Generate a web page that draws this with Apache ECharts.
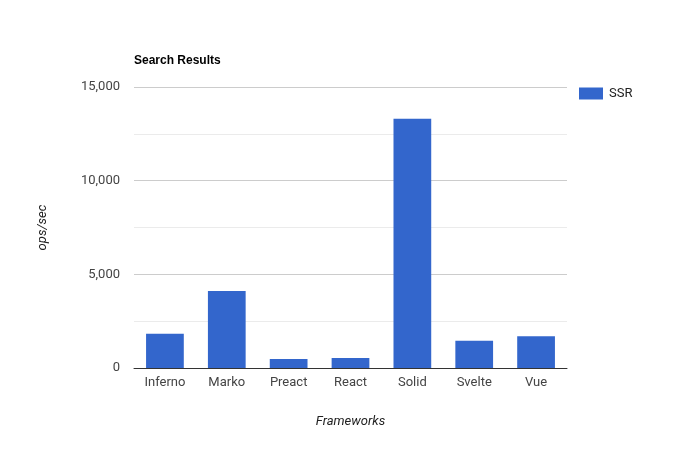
<!DOCTYPE html>
<html lang="en">
<head>
    <meta charset="UTF-8">
    <title>Search Results</title>
    <script src="https://cdn.jsdelivr.net/npm/echarts@6/dist/echarts.min.js"></script>
    <style>
        html, body { margin: 0; padding: 0; background: #fff; }
        #chart { width: 700px; height: 455px; }
    </style>
</head>
<body>
<div id="chart"></div>
<script type="text/javascript">
    var frameworks = ['Inferno', 'Marko', 'Preact', 'React', 'Solid', 'Svelte', 'Vue'];
    var ssrValues = [1830, 4110, 480, 530, 13300, 1455, 1690];
    var seriesName = 'SSR';

    var font = 'Roboto, Arial, "Liberation Sans", sans-serif';
    var chart = echarts.init(document.getElementById('chart'));

    var option = {
        backgroundColor: '#ffffff',
        animation: false,
        textStyle: { fontFamily: font },
        title: {
            text: 'Search Results',
            left: 134,
            top: 55,
            padding: 0,
            textStyle: { fontSize: 12, fontWeight: 'bold', color: '#000', fontFamily: 'Arial, "Liberation Sans", sans-serif' }
        },
        legend: {
            data: [seriesName],
            left: 579,
            top: 87,
            padding: 0,
            itemWidth: 24,
            itemHeight: 12,
            itemGap: 6,
            icon: 'rect',
            textStyle: { fontSize: 13, color: '#222', fontFamily: font, padding: [0, 0, 0, 1] }
        },
        grid: { left: 134, right: 133, top: 87, bottom: 87 },
        xAxis: {
            type: 'category',
            data: frameworks,
            name: 'Frameworks',
            nameLocation: 'middle',
            nameGap: 47,
            nameTextStyle: { fontStyle: 'italic', fontSize: 13, color: '#222', fontFamily: font },
            axisTick: { show: false },
            axisLine: { lineStyle: { color: '#333', width: 1 } },
            axisLabel: { fontSize: 13, color: '#444', margin: 8, fontFamily: font }
        },
        yAxis: {
            type: 'value',
            min: 0,
            max: 15000,
            interval: 5000,
            name: 'ops/sec',
            nameLocation: 'middle',
            nameGap: 85,
            nameTextStyle: { fontStyle: 'italic', fontSize: 13, color: '#222', fontFamily: font },
            axisLine: { show: false },
            axisTick: { show: false },
            axisLabel: {
                fontSize: 13, color: '#444', margin: 14, fontFamily: font,
                formatter: function (v) { return v.toLocaleString('en-US'); }
            },
            splitLine: { lineStyle: { color: '#cccccc', width: 1 } },
            minorTick: { show: false, splitNumber: 2 },
            minorSplitLine: { show: true, lineStyle: { color: '#ebebeb', width: 1 } }
        },
        series: [
            {
                name: seriesName,
                type: 'bar',
                data: ssrValues,
                barWidth: '61%',
                itemStyle: { color: '#3366cc' }
            }
        ]
    };
    chart.setOption(option);
</script>
</body>
</html>
